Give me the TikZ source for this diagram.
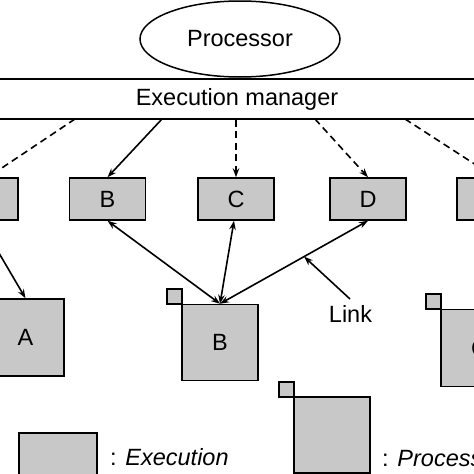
\documentclass[tikz,border=0pt]{standalone}
\usepackage{fontspec}
\setmainfont{Liberation Sans}
\usetikzlibrary{arrows.meta,shapes.geometric,calc}
\definecolor{boxgray}{RGB}{200,200,200}
\tikzset{
  elem/.style={draw, line width=1.5pt, fill=boxgray, minimum width=76pt, minimum height=42pt, inner sep=0pt},
  sq/.style={draw, line width=1.5pt, fill=boxgray, minimum width=#1pt, minimum height=#1pt, inner sep=0pt},
  small/.style={draw, line width=1.5pt, fill=boxgray, minimum width=15pt, minimum height=15pt, inner sep=0pt},
  conn/.style={line width=1.6pt, -{Stealth[length=9pt,width=6.5pt]}},
  dconn/.style={conn, dash pattern=on 7pt off 4.5pt},
  link/.style={line width=1.6pt, {Stealth[length=9pt,width=6.5pt]}-{Stealth[length=9pt,width=6.5pt]}},
  lbl/.style={font=\fontsize{23.5}{28}\selectfont, inner sep=0pt}
}
\begin{document}
\begin{tikzpicture}[x=1pt,y=-1pt]
\useasboundingbox (0,0) rectangle (474,474);
\clip (0,0) rectangle (474,474);
\fill[white] (0,0) rectangle (474,474);
% processor and manager
\node[draw, ellipse, line width=1.5pt, minimum width=200pt, minimum height=76pt, inner sep=0pt, lbl] (proc) at (240,39) {Processor};
\node[draw, line width=1.5pt, fill=white, minimum width=500pt, minimum height=40pt, inner sep=0pt, lbl] (mgr) at (237,99) {Execution manager};
% execution elements
\node[elem] (ba) at (-20,199) {};
\node[elem, lbl] (bb) at (107.5,199) {B};
\node[elem, lbl] (bc) at (236,199) {C};
\node[elem, lbl] (bd) at (368,199) {D};
\node[elem] (be) at (495,199) {};
% processors
\node[sq=77, lbl] (sa) at (25.5,337.5) {A};
\node[sq=76, lbl] (sb) at (220,342.5) {B};
\node[small] (sbs) at (174.5,296.5) {};
\node[sq=77, lbl] (sc) at (479.5,348) {C};
\node[small] (scs) at (433.5,301.5) {};
% manager connectors
\coordinate (m1) at (75,119);
\coordinate (m2) at (162,119);
\coordinate (m4) at (315,119);
\coordinate (m5) at (405,119);
\draw[dconn] (m1) -- ([xshift=8pt]ba.north);
\draw[conn] (m2) -- (bb.north);
\draw[dconn] (bc.north |- mgr.south) -- (bc.north);
\draw[dconn] (m4) -- (bd.north);
\draw[dconn] (m5) -- (be.north);
% element to processor
\draw[conn] (ba.south) -- (sa.north);
\draw[link] (bb.south) -- (sb.north);
\draw[link] ([xshift=-2pt]bc.south) -- (sb.north);
\draw[link] (bd.south) -- (sb.north);
% link label
\coordinate (lk) at ($(bd.south)!0.432!(sb.north)$);
\node[lbl] (linklbl) at (350.5,313.5) {Link};
\coordinate (lkstart) at (350,299);
\draw[conn] (lkstart) -- (lk);
% legend
\node[elem, minimum width=78pt] (lege) at (58,454) {};
\node[lbl, anchor=base west] (legetxt) at (110,465) {: \textit{Execution}};
\node[small] (legps) at (286.5,389.5) {};
\node[sq=76] (legp) at (332,435) {};
\node[lbl, anchor=base west] (legptxt) at (382,466) {: \textit{Processor}};
\end{tikzpicture}
\end{document}
